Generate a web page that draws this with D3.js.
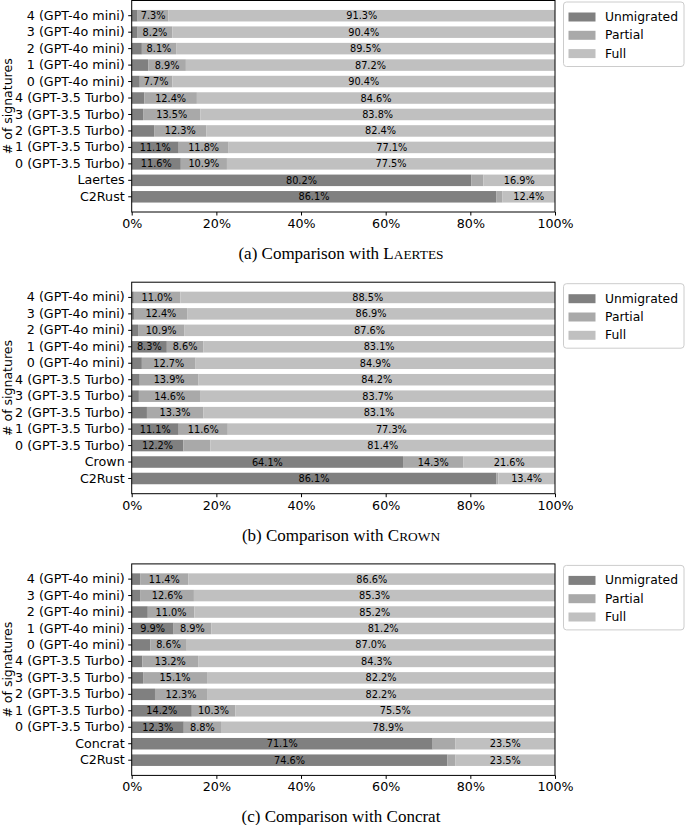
<!DOCTYPE html>
<html>
<head>
<meta charset="utf-8">
<script src="https://cdn.jsdelivr.net/npm/d3@7"></script>
<style>
  html, body { margin: 0; padding: 0; background: #fff; }
  svg { display: block; }
</style>
</head>
<body>
<svg id="chart" width="685" height="825"></svg>
<script>
// ---------- DATA ----------
const llmCategories = [
  "4 (GPT-4o mini)", "3 (GPT-4o mini)", "2 (GPT-4o mini)", "1 (GPT-4o mini)", "0 (GPT-4o mini)",
  "4 (GPT-3.5 Turbo)", "3 (GPT-3.5 Turbo)", "2 (GPT-3.5 Turbo)", "1 (GPT-3.5 Turbo)", "0 (GPT-3.5 Turbo)"
];
const categoriesA = [...llmCategories, "Laertes", "C2Rust"];
const categoriesB = [...llmCategories, "Crown", "C2Rust"];
const categoriesC = [...llmCategories, "Concrat", "C2Rust"];

const unmigratedA = [1.4, 1.4, 2.4, 3.9, 1.9, 3.0, 2.7, 5.3, 11.1, 11.6, 80.2, 86.1];
const partialA    = [7.3, 8.2, 8.1, 8.9, 7.7, 12.4, 13.5, 12.3, 11.8, 10.9, 2.9, 1.5];
const fullA       = [91.3, 90.4, 89.5, 87.2, 90.4, 84.6, 83.8, 82.4, 77.1, 77.5, 16.9, 12.4];

const unmigratedB = [0.5, 0.7, 1.5, 8.3, 2.4, 1.9, 1.7, 3.6, 11.1, 12.2, 64.1, 86.1];
const partialB    = [11.0, 12.4, 10.9, 8.6, 12.7, 13.9, 14.6, 13.3, 11.6, 6.4, 14.3, 0.5];
const fullB       = [88.5, 86.9, 87.6, 83.1, 84.9, 84.2, 83.7, 83.1, 77.3, 81.4, 21.6, 13.4];

const unmigratedC = [2.0, 2.1, 3.8, 9.9, 4.4, 2.5, 2.7, 5.5, 14.2, 12.3, 71.1, 74.6];
const partialC    = [11.4, 12.6, 11.0, 8.9, 8.6, 13.2, 15.1, 12.3, 10.3, 8.8, 5.4, 1.9];
const fullC       = [86.6, 85.3, 85.2, 81.2, 87.0, 84.3, 82.2, 82.2, 75.5, 78.9, 23.5, 23.5];

const seriesNames = ["Unmigrated", "Partial", "Full"];
const seriesColors = ["#808080", "#a9a9a9", "#c0c0c0"];
const xTicks = [0, 20, 40, 60, 80, 100];
const yAxisTitle = "# of signatures";
const captions = [
  { prefix: "(a) Comparison with ", cap: "L", small: "AERTES" },
  { prefix: "(b) Comparison with ", cap: "C", small: "ROWN" },
  { prefix: "(c) Comparison with Concrat", cap: "", small: "" }
];

const panels = [
  { cats: categoriesA, series: [unmigratedA, partialA, fullA] },
  { cats: categoriesB, series: [unmigratedB, partialB, fullB] },
  { cats: categoriesC, series: [unmigratedC, partialC, fullC] }
];

// ---------- LAYOUT ----------
const svg = d3.select("#chart");
const SANS = "'DejaVu Sans', sans-serif";
const SERIF = "'Liberation Serif', 'Times New Roman', serif";
const left = 131.7, right = 555;
const panelH = 211.5;
const panelStep = 281.7;
const firstTop = 0.5;
const labelThreshold = 7;

// fit a font size so that a sample string reaches a target pixel width
function fitSize(sample, family, targetWidth, base) {
  const t = svg.append("text").attr("font-family", family).attr("font-size", base + "px").text(sample);
  const w = t.node().getComputedTextLength();
  t.remove();
  return w > 0 ? base * targetWidth / w : base;
}
const tickFs = fitSize("4 (GPT-4o mini)", SANS, 98, 12);
const barFs = fitSize("91.3%", SANS, 31, 10);
const legendFs = fitSize("Unmigrated", SANS, 73, 12);
const titleFs = fitSize(yAxisTitle, SANS, 96, 12);

const x = d3.scaleLinear().domain([0, 100]).range([left, right]);

panels.forEach((p, pi) => {
  const top = firstTop + pi * panelStep;
  const bottom = top + panelH;
  const g = svg.append("g");

  const y = d3.scaleBand()
    .domain(p.cats)
    .range([top, bottom])
    .paddingInner(0.3)
    .paddingOuter(0.574);

  const rows = p.cats.map((c, i) => {
    let acc = 0;
    return p.series.map((s, si) => {
      const v = s[i];
      const seg = { cat: c, si, v, x0: acc, x1: acc + v };
      acc += v;
      return seg;
    });
  }).flat();

  g.selectAll("rect.bar").data(rows).join("rect")
    .attr("class", "bar")
    .attr("x", d => x(d.x0))
    .attr("width", d => Math.max(0, x(d.x1) - x(d.x0)))
    .attr("y", d => y(d.cat))
    .attr("height", y.bandwidth())
    .attr("fill", d => seriesColors[d.si]);

  g.selectAll("text.val").data(rows.filter(d => d.v >= labelThreshold)).join("text")
    .attr("class", "val")
    .attr("x", d => x((d.x0 + d.x1) / 2))
    .attr("y", d => y(d.cat) + y.bandwidth() / 2)
    .attr("text-anchor", "middle")
    .attr("dominant-baseline", "central")
    .attr("font-family", SANS)
    .attr("font-size", barFs + "px")
    .attr("fill", "#000")
    .text(d => d.v.toFixed(1) + "%");

  g.append("rect")
    .attr("x", left).attr("y", top)
    .attr("width", right - left).attr("height", panelH)
    .attr("fill", "none").attr("stroke", "#000").attr("stroke-width", 1);

  const xAxis = g.append("g")
    .attr("transform", `translate(0,${bottom})`)
    .call(d3.axisBottom(x).tickValues(xTicks).tickFormat(d => d + "%").tickSize(3.5).tickPadding(3.5));
  xAxis.select(".domain").remove();
  xAxis.selectAll("text").attr("font-family", SANS).attr("font-size", tickFs + "px").attr("fill", "#000");
  xAxis.selectAll("line").attr("stroke", "#000");

  const yAxis = g.append("g")
    .attr("transform", `translate(${left},0)`)
    .call(d3.axisLeft(y).tickSize(3.5).tickPadding(3.5));
  yAxis.select(".domain").remove();
  yAxis.selectAll("text").attr("font-family", SANS).attr("font-size", tickFs + "px").attr("fill", "#000");
  yAxis.selectAll("line").attr("stroke", "#000");

  g.append("text")
    .attr("transform", `translate(7,${(top + bottom) / 2}) rotate(-90)`)
    .attr("text-anchor", "middle")
    .attr("dominant-baseline", "central")
    .attr("font-family", SANS)
    .attr("font-size", titleFs + "px")
    .attr("fill", "#000")
    .text(yAxisTitle);

  const lg = g.append("g");
  lg.append("rect")
    .attr("x", 563.5).attr("y", top + 1.5)
    .attr("width", 120.5).attr("height", 64.5)
    .attr("rx", 3).attr("fill", "#fff")
    .attr("stroke", "#cccccc").attr("stroke-width", 1);
  seriesNames.forEach((n, i) => {
    const cy = top + 16.5 + i * 18.3;
    lg.append("rect")
      .attr("x", 568.5).attr("y", cy - 4.5)
      .attr("width", 27).attr("height", 9)
      .attr("fill", seriesColors[i]);
    lg.append("text")
      .attr("x", 605).attr("y", cy)
      .attr("dominant-baseline", "central")
      .attr("font-family", SANS)
      .attr("font-size", legendFs + "px")
      .attr("fill", "#000")
      .text(n);
  });

  const cap = captions[pi];
  const t = g.append("text")
    .attr("x", 341).attr("y", top + 258.5)
    .attr("text-anchor", "middle")
    .attr("font-family", SERIF)
    .attr("font-size", "17px")
    .attr("fill", "#000");
  t.append("tspan").text(cap.prefix + cap.cap);
  if (cap.small) t.append("tspan").attr("font-size", "13.4px").text(cap.small);
});
</script>
</body>
</html>
